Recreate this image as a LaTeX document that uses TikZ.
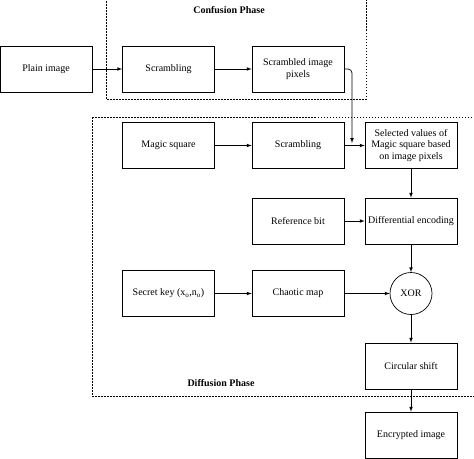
\documentclass[tikz,border=0pt]{standalone}
\usepackage{fontspec}
\setmainfont{Liberation Serif}
\usetikzlibrary{shapes,arrows,positioning}

\begin{document}
\begin{tikzpicture}[x=1pt,y=-1pt,
    block/.style={draw,line width=0.7pt,align=center,minimum width=92pt,minimum height=46pt,inner sep=2pt,font=\fontsize{10}{11.5}\selectfont},
    xorcircle/.style={draw,line width=0.7pt,circle,minimum size=42pt,inner sep=0pt,font=\fontsize{10}{11}\selectfont},
    phasebox/.style={line width=0.7pt,dash pattern=on 1.5pt off 1.5pt},
    phaselabel/.style={font=\bfseries\fontsize{10}{11}\selectfont},
    flow/.style={line width=0.7pt,-latex}]

                    \useasboundingbox (0,0) rectangle (474,458);

                    %%phases
                    \draw[phasebox] (106,-5) rectangle (366,99);
                    \draw[phasebox] (92,117) rectangle (480,396);
                    \node[phaselabel] (confusion) at(229,10){Confusion Phase};
                    \node[phaselabel] (diffusion) at(221,383){Diffusion Phase};

                    %%blocks
                    \node[block] (plain) at(46,69){Plain image};
                    \node[block] (scramble) at(168.5,69){Scrambling};
                    \node[block] (scrpixels) at(298,69){Scrambled image\\pixels};

                    \node[block] (magic) at(168.5,145.5){Magic square};
                    \node[block] (scramblemagic) at(298,145.5){Scrambling};
                    \node[block] (selected) at(411,145.5){Selected values of\\Magic square based\\on image pixels};

                    \node[block] (refbit) at(298,221){Reference bit};
                    \node[block] (diffenc) at(411,221){Differential encoding};

                    \node[block] (secret) at(168.5,293.5){Secret key (x\textsubscript{o},n\textsubscript{o})};
                    \node[block] (chaotic) at(298,293.5){Chaotic map};
                    \node[xorcircle] (xor) at(411,293.5){XOR};

                    \node[block] (circshift) at(411,366){Circular shift};
                    \node[block] (encrypted) at(411,435){Encrypted image};

                    %%arrows
                    \coordinate (join) at(352,143);
                    \draw[flow] (plain) -- (scramble);
                    \draw[flow] (scramble) -- (scrpixels);
                    \draw[flow,rounded corners=4pt] (scrpixels.east) -| (join);
                    \draw[flow] (magic) -- (scramblemagic);
                    \draw[flow] (scramblemagic) -- (selected);
                    \draw[flow] (selected) -- (diffenc);
                    \draw[flow] (refbit) -- (diffenc);
                    \draw[flow] (diffenc) -- (xor);
                    \draw[flow] (secret) -- (chaotic);
                    \draw[flow] (chaotic) -- (xor);
                    \draw[flow] (xor) -- (circshift);
                    \draw[flow] (circshift) -- (encrypted);

\end{tikzpicture}
\end{document}
